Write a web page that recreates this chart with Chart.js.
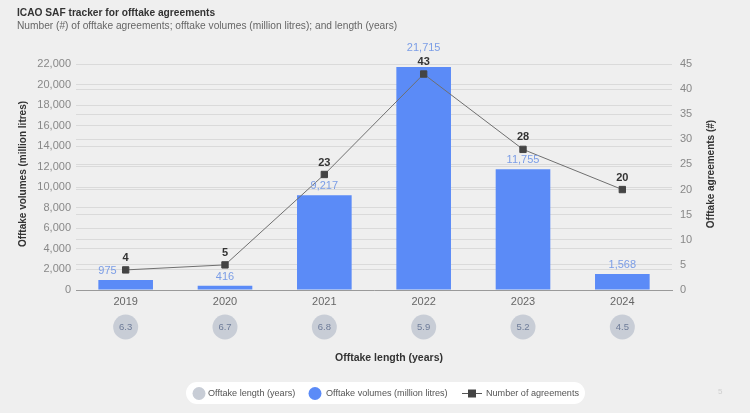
<!DOCTYPE html>
<html>
<head>
<meta charset="utf-8">
<script src="https://cdn.jsdelivr.net/npm/chart.js@4.4.1/dist/chart.umd.min.js"></script>
<style>
  html, body { margin: 0; padding: 0; background: #efefef; }
  canvas { display: block; }
</style>
</head>
<body>
<canvas id="c" width="750" height="413"></canvas>
<script>
// data
const years = ['2019', '2020', '2021', '2022', '2023', '2024'];
const volumes = [975, 416, 9217, 21715, 11755, 1568];
const agreements = [4, 5, 23, 43, 28, 20];
const lengths = [6.3, 6.7, 6.8, 5.9, 5.2, 4.5];

const volumeTicks = [0, 22000, 2000];
const agreementTicks = [0, 45, 5];

const legendItems = ['Offtake length (years)', 'Offtake volumes (million litres)', 'Number of agreements'];

const FONT = '"Liberation Sans", Arial, sans-serif';
const BLUE = '#5b8bf7';
const GREY_DOT = '#c8cdd6';

function fmt(n) {
  return n.toLocaleString('en-US');
}

// titles, axis titles, length circles, legend
const decorPlugin = {
  id: 'decor',
  afterDraw(chart) {
    const ctx = chart.ctx;
    const area = chart.chartArea;
    const x = chart.scales.x;
    ctx.save();

    ctx.fillStyle = '#333';
    ctx.font = 'bold 10.2px ' + FONT;
    ctx.textAlign = 'left';
    ctx.textBaseline = 'alphabetic';
    ctx.fillText('ICAO SAF tracker for offtake agreements', 17, 16);
    ctx.fillStyle = '#666';
    ctx.font = '10.2px ' + FONT;
    ctx.fillText('Number (#) of offtake agreements; offtake volumes (million litres); and length (years)', 17, 29);

    // axis titles
    const midY = (area.top + area.bottom) / 2 - 3;
    ctx.fillStyle = '#333';
    ctx.font = 'bold 10px ' + FONT;
    ctx.textAlign = 'center';
    ctx.textBaseline = 'middle';
    ctx.save();
    ctx.translate(23, midY);
    ctx.rotate(-Math.PI / 2);
    ctx.fillText('Offtake volumes (million litres)', 0, 0);
    ctx.restore();
    ctx.save();
    ctx.translate(711, midY);
    ctx.rotate(-Math.PI / 2);
    ctx.fillText('Offtake agreements (#)', 0, 0);
    ctx.restore();

    // length circles
    lengths.forEach((v, i) => {
      const cx = x.getPixelForValue(i);
      ctx.beginPath();
      ctx.arc(cx, 327, 12.5, 0, Math.PI * 2);
      ctx.fillStyle = GREY_DOT;
      ctx.fill();
      ctx.fillStyle = '#6d7b98';
      ctx.font = '9.5px ' + FONT;
      ctx.fillText(v.toFixed(1), cx, 327.5);
    });
    ctx.fillStyle = '#333';
    ctx.font = 'bold 10.5px ' + FONT;
    ctx.fillText('Offtake length (years)', 389, 358);

    // legend pill
    ctx.fillStyle = '#ffffff';
    ctx.beginPath();
    ctx.roundRect(186, 382, 399, 22, 11);
    ctx.fill();
    ctx.font = '9.1px ' + FONT;
    ctx.textAlign = 'left';
    const ly = 393.5;
    ctx.fillStyle = GREY_DOT;
    ctx.beginPath(); ctx.arc(199, ly, 6.5, 0, Math.PI * 2); ctx.fill();
    ctx.fillStyle = '#555';
    ctx.fillText(legendItems[0], 208, ly);
    ctx.fillStyle = BLUE;
    ctx.beginPath(); ctx.arc(315, ly, 6.5, 0, Math.PI * 2); ctx.fill();
    ctx.fillStyle = '#555';
    ctx.fillText(legendItems[1], 326, ly);
    ctx.strokeStyle = '#555';
    ctx.lineWidth = 1;
    ctx.beginPath(); ctx.moveTo(462, ly); ctx.lineTo(482, ly); ctx.stroke();
    ctx.fillStyle = '#444';
    ctx.fillRect(468, ly - 4, 8, 8);
    ctx.fillStyle = '#555';
    ctx.fillText(legendItems[2], 486, ly);

    // page number
    ctx.fillStyle = '#cfcfcf';
    ctx.font = '8px ' + FONT;
    ctx.fillText('5', 718, 392);
    ctx.restore();
  }
};

// value labels over bars and markers
const labelPlugin = {
  id: 'labels',
  afterDatasetsDraw(chart) {
    const ctx = chart.ctx;
    const bars = chart.getDatasetMeta(0).data;
    const pts = chart.getDatasetMeta(1).data;
    ctx.save();
    ctx.textAlign = 'center';
    ctx.textBaseline = 'middle';
    pts.forEach((p, i) => {
      const cy = p.y - 12;
      ctx.fillStyle = '#333';
      ctx.font = 'bold 11px ' + FONT;
      ctx.fillText(agreements[i], p.x, cy);

      const b = bars[i];
      let by = b.y - 9;
      let bx = b.x;
      const txt = fmt(volumes[i]);
      ctx.font = '11px ' + FONT;
      const w = ctx.measureText(txt).width;
      if (Math.abs(by - cy) < 12) {
        by = cy - 14;
      } else if (Math.abs(by - p.y) < 10) {
        bx = p.x - 9 - w / 2;
      }
      ctx.fillStyle = '#7b9de6';
      ctx.fillText(txt, bx, by);
    });
    ctx.restore();
  }
};

new Chart(document.getElementById('c'), {
  type: 'bar',
  data: {
    labels: years,
    datasets: [
      {
        type: 'bar',
        label: 'Offtake volumes (million litres)',
        data: volumes,
        backgroundColor: BLUE,
        yAxisID: 'y',
        barPercentage: 0.55,
        categoryPercentage: 1,
        order: 2
      },
      {
        type: 'line',
        label: 'Number of agreements',
        data: agreements,
        yAxisID: 'y1',
        borderColor: '#6f6f6f',
        borderWidth: 1,
        pointStyle: 'rect',
        pointRadius: 4.5,
        pointBackgroundColor: '#444',
        pointBorderColor: '#444',
        tension: 0,
        order: 1
      }
    ]
  },
  options: {
    responsive: false,
    animation: false,
    layout: { padding: { top: 64, bottom: 99, left: 0, right: 0 } },
    plugins: {
      legend: { display: false },
      tooltip: { enabled: false }
    },
    scales: {
      x: {
        grid: { display: false, drawTicks: false },
        border: { display: true, color: '#9a9a9a' },
        ticks: { color: '#666', font: { family: FONT, size: 11 }, padding: 5 },
        afterFit(s) { s.height = 24; }
      },
      y: {
        position: 'left',
        min: volumeTicks[0],
        max: volumeTicks[1],
        ticks: {
          stepSize: volumeTicks[2],
          color: '#888',
          padding: 5,
          font: { family: FONT, size: 11 },
          callback: v => fmt(v)
        },
        grid: { color: '#dadada', drawTicks: false },
        border: { display: false },
        afterFit(s) { s.width = 76; }
      },
      y1: {
        position: 'right',
        min: agreementTicks[0],
        max: agreementTicks[1],
        ticks: {
          stepSize: agreementTicks[2],
          color: '#888',
          padding: 8,
          font: { family: FONT, size: 11 }
        },
        grid: { color: '#dadada', drawTicks: false },
        border: { display: false },
        afterFit(s) { s.width = 78; }
      }
    }
  },
  plugins: [decorPlugin, labelPlugin]
});
</script>
</body>
</html>
